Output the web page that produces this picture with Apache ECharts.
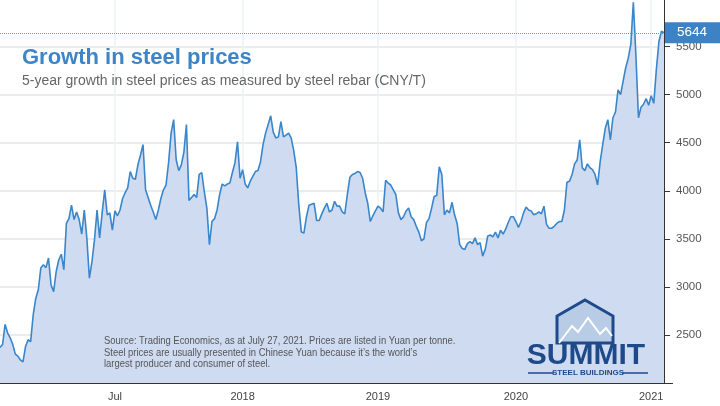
<!DOCTYPE html>
<html>
<head>
<meta charset="utf-8">
<script src="https://cdn.jsdelivr.net/npm/echarts@6/dist/echarts.min.js"></script>
<style>
html, body { margin: 0; padding: 0; background: #fff; }
#chart { width: 720px; height: 406px; }
</style>
</head>
<body>
<div id="chart"></div>
<script>
var myChart = echarts.init(document.getElementById('chart'));

// weekly steel rebar price, CNY/T (late Jul 2016 -> 27 Jul 2021)
var prices = [
    2370, 2400, 2610, 2520, 2470, 2400, 2300, 2280, 2240, 2220,
    2380, 2450, 2430, 2710, 2880, 2970, 3200, 3230, 3200, 3300,
    3020, 2950, 3160, 3280, 3340, 3180, 3660, 3710, 3850, 3700,
    3780, 3700, 3550, 3800, 3510, 3090, 3260, 3490, 3800, 3510,
    3770, 4010, 3750, 3770, 3590, 3790, 3740, 3800, 3920, 3980,
    4030, 4200, 4130, 4120, 4270, 4370, 4480, 4010, 3930, 3850,
    3780, 3700, 3800, 3920, 4010, 4060, 4290, 4600, 4740, 4320,
    4210, 4270, 4400, 4690, 3900, 3930, 3960, 3930, 4170, 4190,
    3990, 3820, 3440, 3680, 3710, 3800, 3960, 4070, 4050, 4070,
    4080, 4190, 4290, 4510, 4130, 4220, 4070, 4030, 4100, 4150,
    4200, 4210, 4300, 4480, 4600, 4690, 4780, 4610, 4550, 4560,
    4720, 4560, 4580, 4600, 4550, 4420, 4240, 3850, 3570, 3560,
    3730, 3850, 3860, 3870, 3690, 3690, 3760, 3820, 3870, 3780,
    3800, 3890, 3840, 3840, 3780, 3760, 3960, 4140, 4170, 4180,
    4200, 4190, 4130, 3980, 3870, 3680, 3740, 3790, 3840, 3820,
    3780, 4110, 4080, 4060, 4010, 3960, 3770, 3700, 3730, 3790,
    3820, 3730, 3700, 3630, 3570, 3480, 3500, 3670, 3710, 3820,
    3940, 3950, 4250, 4170, 3750, 3800, 3770, 3880, 3750, 3660,
    3440, 3400, 3390, 3450, 3470, 3450, 3510, 3440, 3460, 3320,
    3390, 3530, 3540, 3520, 3570, 3510, 3590, 3550, 3600, 3670,
    3730, 3730, 3680, 3620, 3680, 3770, 3830, 3800, 3790, 3750,
    3760, 3780, 3760, 3840, 3650, 3610, 3610, 3630, 3660, 3680,
    3680, 3800, 4090, 4100, 4170, 4280, 4320, 4530, 4240, 4210,
    4280, 4240, 4220, 4170, 4060, 4300, 4480, 4650, 4740, 4530,
    4760, 4820, 5050, 5000, 5140, 5280, 5380, 5520, 5960, 5410,
    4760, 4870, 4900, 4960, 4890, 4990, 4910, 5260, 5550, 5660,
    5644
];

var tickIndex = [45, 95, 148, 202, 255];
var tickLabels = ['Jul', '2018', '2019', '2020', '2021'];
var yTicks = [2500, 3000, 3500, 4000, 4500, 5000, 5500];
var lastPrice = 5644;

var sourceLines = [
    'Source: Trading Economics, as at July 27, 2021. Prices are listed in Yuan per tonne.',
    'Steel prices are usually presented in Chinese Yuan because it\u2019s the world\u2019s',
    'largest producer and consumer of steel.'
];

var start = new Date(2016, 6, 27);
var weeks = prices.map(function(p, i) {
    var d = new Date(start.getTime() + i * 7 * 86400000);
    return d.getFullYear() + '-' + (d.getMonth() + 1) + '-' + d.getDate();
});

var isTick = function(i) { return tickIndex.indexOf(i) >= 0; };
var font = "'Liberation Sans', Arial, sans-serif";
var narrow = "'Liberation Sans Narrow', 'Arial Narrow', 'Liberation Sans', sans-serif";
var lastLineStyle = { type: [1, 1], color: '#5b9fe6', width: 1, opacity: 1 };

var graphics = [
    { type: 'text', left: 22, top: 47, z: 100,
      style: { text: 'Growth in steel prices', fill: '#3d85c6', font: 'bold 22px ' + font } },
    { type: 'text', left: 22, top: 74, z: 100,
      style: { text: '5-year growth in steel prices as measured by steel rebar (CNY/T)', fill: '#666', font: '14px ' + font } },
    // x axis line runs a bit past the price axis
    { type: 'line', z: 100, shape: { x1: 664, y1: 383.5, x2: 673, y2: 383.5 }, style: { stroke: '#333', lineWidth: 1 } }
];
sourceLines.forEach(function(t, k) {
    graphics.push({ type: 'text', x: 104, y: 341 + k * 11.6, scaleX: 0.82, z: 100,
        style: { text: t, fill: '#555', font: '11.5px ' + font, textVerticalAlign: 'middle' } });
});

// logo
graphics.push(
    { type: 'polygon', z: 100, shape: { points: [[585, 300], [613, 316], [613, 343], [557, 343], [557, 316]] },
      style: { fill: '#b9cce6', stroke: '#1e4a8a', lineWidth: 3 } },
    { type: 'polyline', z: 101, shape: { points: [[559, 343], [572, 326], [578, 332], [588, 318], [600, 334], [606, 328], [612, 336]] },
      style: { fill: null, stroke: '#ffffff', lineWidth: 2 } },
    { type: 'text', x: 586, y: 356, z: 100,
      style: { text: 'SUMMIT', fill: '#1e4a8a', font: '900 30px ' + font, textAlign: 'center', textVerticalAlign: 'middle' } },
    { type: 'text', x: 588, y: 373, z: 100,
      style: { text: 'STEEL BUILDINGS', fill: '#1e4a8a', font: 'bold 8px ' + font, textAlign: 'center', textVerticalAlign: 'middle' } },
    { type: 'line', z: 100, shape: { x1: 528, y1: 373, x2: 554, y2: 373 }, style: { stroke: '#1e4a8a', lineWidth: 1.5 } },
    { type: 'line', z: 100, shape: { x1: 622, y1: 373, x2: 648, y2: 373 }, style: { stroke: '#1e4a8a', lineWidth: 1.5 } }
);

option = {
    animation: false,
    grid: { left: 0, right: 56, top: 0, bottom: 23 },
    xAxis: {
        type: 'category',
        data: weeks,
        boundaryGap: false,
        axisLine: { lineStyle: { color: '#333', width: 1 } },
        axisTick: { show: false },
        axisLabel: {
            interval: function(i) { return isTick(i); },
            formatter: function(v, i) { return tickLabels[tickIndex.indexOf(i)]; },
            color: '#444', fontSize: 11, fontFamily: narrow, margin: 8
        },
        splitLine: {
            show: true,
            interval: function(i) { return isTick(i); },
            lineStyle: { color: '#edf2f7', width: 1.5 }
        }
    },
    yAxis: {
        type: 'value',
        position: 'right',
        min: 2000,
        max: 5985,
        interval: 500,
        axisLine: { show: true, lineStyle: { color: '#333', width: 1 } },
        axisTick: { show: true, length: 6, customValues: yTicks, lineStyle: { color: '#333' } },
        axisLabel: {
            customValues: yTicks, margin: 12, color: '#555', fontSize: 11.5, fontFamily: font,
            formatter: function(v) { return String(v); }
        },
        splitLine: { lineStyle: { color: '#e6e6e6', width: 1.5 } }
    },
    series: [{
        type: 'line',
        data: prices,
        symbol: 'none',
        lineStyle: { color: '#3a86cb', width: 1.6 },
        itemStyle: { color: '#3a86cb' },
        areaStyle: { color: '#cfdbf1', opacity: 1 },
        markLine: {
            silent: true,
            symbol: 'none',
            data: [{ yAxis: lastPrice, lineStyle: lastLineStyle }],
            lineStyle: lastLineStyle,
            label: {
                position: 'end', formatter: '{c}', distance: 1,
                color: '#fff', backgroundColor: '#3d82c4',
                padding: [4, 14, 3, 12], fontSize: 13.5, fontFamily: font
            }
        }
    }],
    graphic: graphics
};

myChart.setOption(option);
</script>
</body>
</html>
